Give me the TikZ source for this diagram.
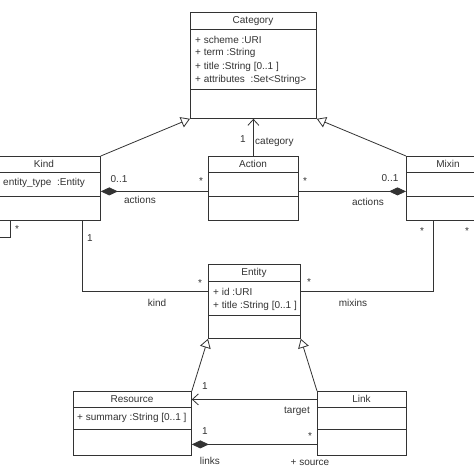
\documentclass[tikz,border=0pt]{standalone}
\usepackage{fontspec}
\setmainfont{Liberation Sans}
\usetikzlibrary{arrows.meta}
\definecolor{linec}{HTML}{333333}
\tikzset{
  ln/.style={draw=linec, line width=0.8pt},
  cls/.style={ln, fill=white, inner sep=0pt, anchor=north west},
  txt/.style={font=\fontsize{10}{12}\selectfont, text=linec, inner sep=0pt},
  lbl/.style={txt, anchor=west},
  gen/.style={ln, -{Triangle[open, length=9pt, width=11pt, fill=white]}},
  comp/.style={ln, {Diamond[length=17pt, width=8pt]}-},
  navi/.style={ln, -{Straight Barb[length=6pt, width=11pt]}},
}
\newcommand\sect[2]{\draw[ln] ([yshift=-#2]#1.north west) -- ([yshift=-#2]#1.north east);}
\begin{document}
\begin{tikzpicture}[x=1pt, y=-1pt]
\useasboundingbox (0,0) rectangle (474,474);
\clip (0,0) rectangle (474,474);
\fill[white] (0,0) rectangle (474,474);

% classes
\node[cls, minimum width=126pt, minimum height=106pt] (cat) at (190,12) {};
\sect{cat}{17pt}\sect{cat}{77pt}
\node[txt] (catT) at (253,21) {Category};
\node[lbl] (catA1) at (195,40) {+ scheme :URI};
\node[lbl] (catA2) at (195,53) {+ term :String};
\node[lbl] (catA3) at (195,66.5) {+ title :String [0..1 ]};
\node[lbl] (catA4) at (195,80) {+ attributes\ \ :Set<String>};

\node[cls, minimum width=112pt, minimum height=64pt] (kind) at (-12,156) {};
\sect{kind}{16.7pt}\sect{kind}{40pt}
\node[txt] (kindT) at (44,164) {Kind};
\node[lbl] (kindA) at (3,183) {entity\_type\ \ :Entity};

\node[cls, minimum width=90pt, minimum height=64pt] (action) at (208,156) {};
\sect{action}{16.7pt}\sect{action}{40pt}
\node[txt] (actT) at (253,164) {Action};

\node[cls, minimum width=84pt, minimum height=64pt] (mixin) at (406,156) {};
\sect{mixin}{16.7pt}\sect{mixin}{40pt}
\node[txt] (mixT) at (448,164) {Mixin};

\node[cls, minimum width=92pt, minimum height=74pt] (entity) at (208,264) {};
\sect{entity}{17.7pt}\sect{entity}{51.7pt}
\node[txt] (entT) at (254,273) {Entity};
\node[lbl] (entA1) at (213,292) {+ id :URI};
\node[lbl] (entA2) at (213,306) {+ title :String [0..1 ]};

\node[cls, minimum width=118pt, minimum height=64pt] (resource) at (73,391) {};
\sect{resource}{16pt}\sect{resource}{38pt}
\node[txt] (resT) at (132,399) {Resource};
\node[lbl] (resA) at (77,418) {+ summary\ :String [0..1 ]};

\node[cls, minimum width=89pt, minimum height=64pt] (link) at (317,391) {};
\sect{link}{16pt}\sect{link}{38pt}
\node[txt] (linkT) at (361.5,399) {Link};

% generalizations
\draw[gen] (kind.north east) -- (cat.south west);
\draw[gen] (mixin.north west) -- (cat.south east);
\draw[gen] (resource.north east) -- (entity.south west);
\draw[gen] (link.north west) -- (entity.south east);

% category association
\draw[navi] (action.north) -- (action.north |- cat.south);
\node[txt] (c1) at (243,139) {1};
\node[lbl] (cL) at (255,142) {category};

% actions compositions
\draw[comp] ([yshift=-3pt]kind.east) -- ([yshift=-3pt]action.west);
\node[txt] (ka1) at (119,179) {0..1};
\node[txt] (ka2) at (201,181) {*};
\node[txt] (ka3) at (140,200) {actions};
\draw[comp] ([yshift=-3pt]mixin.west) -- ([yshift=-3pt]action.east);
\node[txt] (ma1) at (305,181) {*};
\node[txt] (ma2) at (390,178) {0..1};
\node[txt] (ma3) at (368,202) {actions};

% kind self loop
\coordinate (kloop) at (-10,237);
\draw[ln] ([xshift=22pt]kind.south west) |- (kloop);
\node[txt] (kl1) at (17,229) {*};

% kind - entity
\coordinate (kd) at ([xshift=38pt]kind.south);
\coordinate (el) at ([yshift=10pt]entity.west);
\draw[ln] (kd) |- (el);
\node[txt] (ke1) at (90,238) {1};
\node[txt] (ke2) at (200,283) {*};
\node[txt] (ke3) at (157,303) {kind};

% mixin - entity
\coordinate (md) at ([xshift=-15pt]mixin.south);
\coordinate (er) at ([yshift=10pt]entity.east);
\draw[ln] (md) |- (er);
\node[txt] (me1) at (422,231) {*};
\node[txt] (me0) at (467,231) {*};
\node[txt] (me2) at (309,282) {*};
\node[txt] (me3) at (353,303) {mixins};

% link - resource
\draw[navi] ([yshift=24pt]link.west) -- ([yshift=24pt]resource.east);
\node[txt] (lr1) at (205,386) {1};
\node[txt] (lr2) at (297,411) {target};
\draw[comp] ([yshift=-21pt]resource.east) -- ([yshift=-21pt]link.west);
\node[txt] (lr3) at (205,431) {1};
\node[txt] (lr4) at (310,436) {*};
\node[txt] (lr5) at (210,461) {links};
\node[txt] (lr6) at (310,463) {+ source};
\end{tikzpicture}
\end{document}
